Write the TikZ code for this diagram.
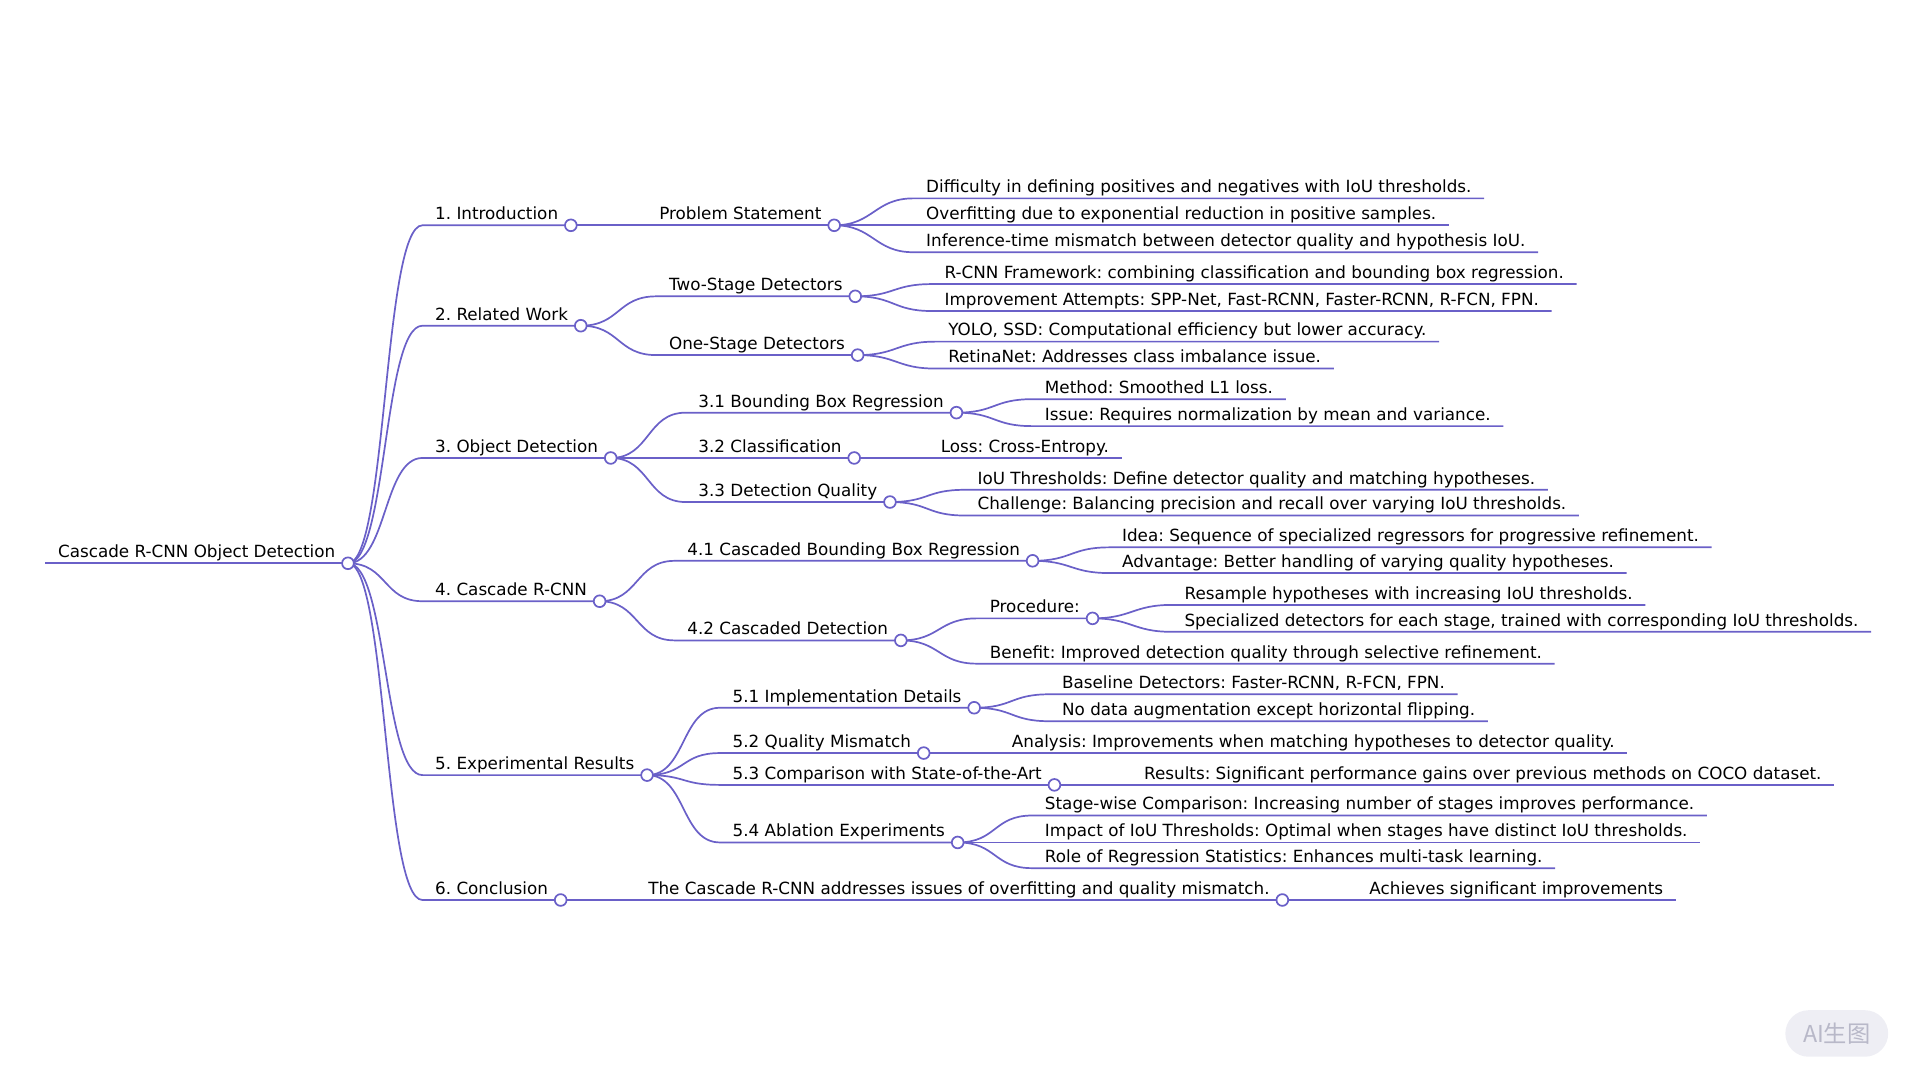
\documentclass[tikz,border=0pt]{standalone}
\usepackage{fontspec}
\setmainfont{DejaVu Sans}
\newfontfamily\cjk{Noto Sans CJK SC}
\definecolor{branch}{RGB}{106,96,200}
\definecolor{badge}{RGB}{238,238,244}
\definecolor{badgetext}{RGB}{184,184,200}
\frenchspacing

\begin{document}
\begin{tikzpicture}[x=0.5pt,y=-0.5pt,
    topic/.style={anchor=south west,inner xsep=5pt,inner ysep=0.5pt,text depth=1.6pt,
      font=\fontsize{6.85pt}{8pt}\selectfont},
    link/.style={draw=branch,line width=0.7pt},
    knot/.style={circle,draw=branch,fill=white,line width=0.7pt,minimum size=4.8pt,inner sep=0pt}]
  \useasboundingbox (0,0) rectangle (1568,882);

  \node[topic] (root) at (37,460) {Cascade R-CNN Object Detection};

  \node[topic] (intro)   at (345,184) {1. Introduction};
  \node[topic] (related) at (345,266) {2. Related Work};
  \node[topic] (objdet)  at (345,374) {3. Object Detection};
  \node[topic] (cascade) at (345,491) {4. Cascade R-CNN};
  \node[topic] (exper)   at (345,633) {5. Experimental Results};
  \node[topic] (concl)   at (345,735) {6. Conclusion};

  \node[topic] (problem) at (528,184) {Problem Statement};
  \node[topic] (p1) at (746,162) {Difficulty in defining positives and negatives with IoU thresholds.};
  \node[topic] (p2) at (746,184) {Overfitting due to exponential reduction in positive samples.};
  \node[topic] (p3) at (746,206) {Inference-time mismatch between detector quality and hypothesis IoU.};

  \node[topic] (twostage) at (536,242) {Two-Stage Detectors};
  \node[topic] (onestage) at (536,290) {One-Stage Detectors};
  \node[topic] (t1) at (761,232) {R-CNN Framework: combining classification and bounding box regression.};
  \node[topic] (t2) at (761,254) {Improvement Attempts: SPP-Net, Fast-RCNN, Faster-RCNN, R-FCN, FPN.};
  \node[topic] (o1) at (764,279) {YOLO, SSD: Computational efficiency but lower accuracy.};
  \node[topic] (o2) at (764,301) {RetinaNet: Addresses class imbalance issue.};

  \node[topic] (bbox)    at (560,337) {3.1 Bounding Box Regression};
  \node[topic] (classif) at (560,374) {3.2 Classification};
  \node[topic] (quality) at (560,410) {3.3 Detection Quality};
  \node[topic] (b1) at (843,326) {Method: Smoothed L1 loss.};
  \node[topic] (b2) at (843,348) {Issue: Requires normalization by mean and variance.};
  \node[topic] (c1) at (758,374) {Loss: Cross-Entropy.};
  \node[topic] (q1) at (788,400) {IoU Thresholds: Define detector quality and matching hypotheses.};
  \node[topic] (q2) at (788,421) {Challenge: Balancing precision and recall over varying IoU thresholds.};

  \node[topic] (cbbox) at (551,458) {4.1 Cascaded Bounding Box Regression};
  \node[topic] (cdet)  at (551,523) {4.2 Cascaded Detection};
  \node[topic] (i1) at (906,447) {Idea: Sequence of specialized regressors for progressive refinement.};
  \node[topic] (i2) at (906,468) {Advantage: Better handling of varying quality hypotheses.};
  \node[topic] (proc)    at (798,505) {Procedure:};
  \node[topic] (benefit) at (798,542) {Benefit: Improved detection quality through selective refinement.};
  \node[topic] (rs1) at (957,494) {Resample hypotheses with increasing IoU thresholds.};
  \node[topic] (rs2) at (957,516) {Specialized detectors for each stage, trained with corresponding IoU thresholds.};

  \node[topic] (impl) at (588,578) {5.1 Implementation Details};
  \node[topic] (qmis) at (588,615) {5.2 Quality Mismatch};
  \node[topic] (comp) at (588,641) {5.3 Comparison with State-of-the-Art};
  \node[topic] (abl)  at (588,688) {5.4 Ablation Experiments};
  \node[topic] (d1) at (857,567) {Baseline Detectors: Faster-RCNN, R-FCN, FPN.};
  \node[topic] (d2) at (857,589) {No data augmentation except horizontal flipping.};
  \node[topic] (a1) at (816,615) {Analysis: Improvements when matching hypotheses to detector quality.};
  \node[topic] (r1) at (924,641) {Results: Significant performance gains over previous methods on COCO dataset.};
  \node[topic] (s1) at (843,666) {Stage-wise Comparison: Increasing number of stages improves performance.};
  \node[topic] (s2) at (843,688) {Impact of IoU Thresholds: Optimal when stages have distinct IoU thresholds.};
  \node[topic] (s3) at (843,709) {Role of Regression Statistics: Enhances multi-task learning.};

  \node[topic] (summary) at (519,735) {The Cascade R-CNN addresses issues of overfitting and quality mismatch.};
  \node[topic] (achieve) at (1108,735) {Achieves significant improvements};

  % branches
  \draw[link] (root.south west) -- (root.south east);
  \foreach \a/\b in {root/intro,root/related,root/objdet,root/cascade,root/exper,root/concl,
      intro/problem,problem/p1,problem/p2,problem/p3,
      related/twostage,related/onestage,twostage/t1,twostage/t2,onestage/o1,onestage/o2,
      objdet/bbox,objdet/classif,objdet/quality,bbox/b1,bbox/b2,classif/c1,quality/q1,quality/q2,
      cascade/cbbox,cascade/cdet,cbbox/i1,cbbox/i2,cdet/proc,cdet/benefit,proc/rs1,proc/rs2,
      exper/impl,exper/qmis,exper/comp,exper/abl,impl/d1,impl/d2,qmis/a1,comp/r1,abl/s1,abl/s2,abl/s3,
      concl/summary,summary/achieve}
    \draw[link] (\a.south east) .. controls +(32,0) and +(-32,0) .. (\b.south west) -- (\b.south east);

  \foreach \n in {root,intro,related,objdet,cascade,exper,concl,problem,twostage,onestage,
      bbox,classif,quality,cbbox,cdet,proc,impl,qmis,comp,abl,summary}
    \node[knot] (\n-k) at (\n.south east) {};

  \node[fill=badge,text=badgetext,rounded corners=9.5pt,minimum width=42pt,minimum height=19pt,
    font=\cjk\fontsize{9.5pt}{11pt}\selectfont] (mark) at (1500,844) {AI生图};
\end{tikzpicture}
\end{document}
